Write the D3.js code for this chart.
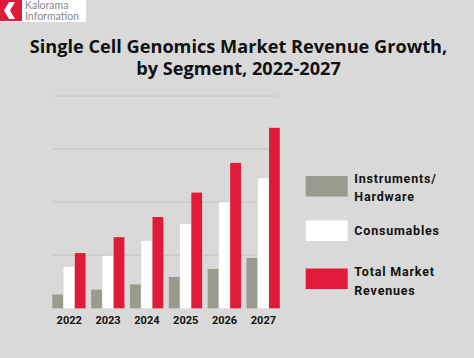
<!DOCTYPE html>
<html><head><meta charset="utf-8">
<script src="https://cdn.jsdelivr.net/npm/d3@7"></script>
<style>html,body{margin:0;padding:0;background:#d9d9d9;}svg{display:block;}</style>
</head><body>
<svg id="c" width="474" height="358"></svg>
<script>
const years = ["2022","2023","2024","2025","2026","2027"];
const seriesNames = ["Instruments/Hardware","Consumables","Total Market Revenues"];
const instruments = [26, 35, 45, 59, 74, 95];
const consumables = [78, 99, 127, 159, 200, 245];
const total = [104, 134, 172, 218, 274, 340];
const gridTicks = [0, 100, 200, 300, 400];
const colors = ["#9a9a8d", "#ffffff", "#e11a3a"];

const svg = d3.select("#c");
svg.append("rect").attr("width",474).attr("height",358).attr("fill","#d9d9d9");

// logo
const logo = svg.append("g");
logo.append("rect").attr("x",0).attr("y",0).attr("width",86).attr("height",22).attr("fill","#ffffff");
logo.append("rect").attr("x",0).attr("y",0).attr("width",22).attr("height",21).attr("fill","#e11a3a");
logo.append("path").attr("d","M9,2 L15,2 L10,10.5 L15,19 L9,19 L4,10.5 Z").attr("fill","#ffffff");
logo.append("text").attr("x",25).attr("y",9).attr("font-family","Lato, sans-serif").attr("font-size",10.5).attr("fill","#8a8a8a").text("Kalorama");
logo.append("text").attr("x",25).attr("y",20).attr("font-family","Lato, sans-serif").attr("font-size",10.5).attr("fill","#8a8a8a").text("Information");

// title
const titleLines = ["Single Cell Genomics Market Revenue Growth,", "by Segment, 2022-2027"];
const t1 = svg.append("text").attr("x",238.5).attr("y",52.7).attr("text-anchor","middle")
  .attr("font-family","'Open Sans', sans-serif").attr("font-weight",700).attr("font-size",16).attr("fill","#111").text(titleLines[0]);
const w1 = t1.node().getComputedTextLength();
const fs = 16 * 418 / w1;
t1.attr("font-size", fs);
svg.append("text").attr("x",238.5).attr("y",74.5).attr("text-anchor","middle")
  .attr("font-family","'Open Sans', sans-serif").attr("font-weight",700).attr("font-size",fs).attr("fill","#111").text(titleLines[1]);

// scales
const x0 = d3.scaleBand().domain(years).range([52.3, 280.3]).paddingInner(0.13).paddingOuter(0);
const x1 = d3.scaleBand().domain([0,1,2]).range([0, x0.bandwidth()]).padding(0);
const y = d3.scaleLinear().domain([0, 400]).range([308.3, 96]);

// gridlines
svg.append("g").selectAll("line").data(gridTicks.slice(1)).join("line")
  .attr("x1",53).attr("x2",277).attr("y1",d=>y(d)).attr("y2",d=>y(d))
  .attr("stroke","#c4c4c4").attr("stroke-width",1);

const data = years.map((yr,i)=>({yr, vals:[instruments[i], consumables[i], total[i]]}));
const groups = svg.append("g").selectAll("g").data(data).join("g")
  .attr("transform", d=>`translate(${x0(d.yr)},0)`);
groups.selectAll("rect").data(d=>d.vals.map((v,k)=>({v,k}))).join("rect")
  .attr("x", d=>x1(d.k)).attr("width", x1.bandwidth()-0.5)
  .attr("y", d=>y(d.v)).attr("height", d=>y(0)-y(d.v))
  .attr("fill", d=>colors[d.k]);

// x axis labels
const xAxis = d3.axisBottom(x0).tickSize(0).tickPadding(0);
const ax = svg.append("g").attr("transform","translate(0,313)").call(xAxis);
ax.select(".domain").remove();
ax.selectAll("text").attr("font-family","Roboto, sans-serif").attr("font-weight",700)
  .attr("font-size",11).attr("fill","#111").attr("dy","0.71em").attr("y",3.5);

// legend
const legendLines = [["Instruments/","Hardware"],["Consumables"],["Total Market","Revenues"]];
const swY = [176, 220.5, 268.5];
const textY = [[182.7,200.7],[235],[276,295]];
const lg = svg.append("g");
legendLines.forEach((lines,k)=>{
  lg.append("rect").attr("x",305.7).attr("y",swY[k]).attr("width",42).attr("height",20.5).attr("fill",colors[k]);
  lines.forEach((ln,j)=>{
    lg.append("text").attr("x",354.3).attr("y",textY[k][j])
      .attr("font-family","Roboto, sans-serif").attr("font-weight",700).attr("font-size",12.5)
      .attr("letter-spacing","0.8px").attr("fill","#111").text(ln);
  });
});
</script>
</body></html>
